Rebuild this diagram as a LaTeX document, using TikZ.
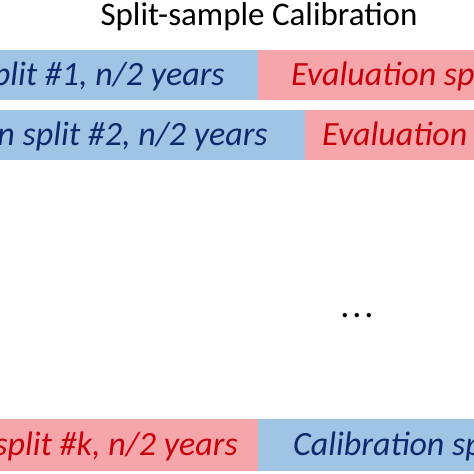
\documentclass[tikz,border=0pt]{standalone}
\usepackage{fontspec}
\setmainfont{Carlito}
\definecolor{calblue}{RGB}{160,196,228}
\definecolor{evalpink}{RGB}{246,166,170}
\definecolor{caltext}{RGB}{14,40,110}
\definecolor{evaltext}{RGB}{200,0,10}
\begin{document}
\begin{tikzpicture}[x=1pt,y=1pt,
  calbox/.style={fill=calblue,draw=none},
  evalbox/.style={fill=evalpink,draw=none},
  caltxt/.style={font=\fontsize{34}{37}\selectfont\itshape,text=caltext,inner sep=0pt},
  evaltxt/.style={font=\fontsize{34}{37}\selectfont\itshape,text=evaltext,inner sep=0pt}]
\useasboundingbox (0,0) rectangle (474,474);
\clip (0,0) rectangle (474,474);
\fill[white] (0,0) rectangle (474,474);
\node[anchor=base,inner sep=0pt,font=\fontsize{33}{36}\selectfont] (title) at (259,448) {Split-sample Calibration};
% row 1
\path[calbox] (-300,374) rectangle (258,424);
\path[evalbox] (258,374) rectangle (800,424);
\node[caltxt,anchor=base east] (c1) at (225,388) {Calibration split \#1, n/2 years};
\node[evaltxt,anchor=base west] (e1) at (291,388) {Evaluation split \#1, n/2 years};
% row 2
\path[calbox] (-300,314) rectangle (305,364);
\path[evalbox] (305,314) rectangle (800,364);
\node[caltxt,anchor=base east] (c2) at (268,328) {Calibration split \#2, n/2 years};
\node[evaltxt,anchor=base west] (e2) at (322,328) {Evaluation split \#2, n/2 years};
% dots
\node[anchor=base,inner sep=0pt,font=\fontsize{36}{40}\selectfont] (dots) at (357,156) {.\kern3pt.\kern3pt.};
% row k
\path[evalbox] (-300,3) rectangle (258,55);
\path[calbox] (258,3) rectangle (800,55);
\node[evaltxt,anchor=base east] (ek) at (238,18) {Evaluation split \#k, n/2 years};
\node[caltxt,anchor=base west] (ck) at (293,18) {Calibration split \#k, n/2 years};
\end{tikzpicture}
\end{document}
